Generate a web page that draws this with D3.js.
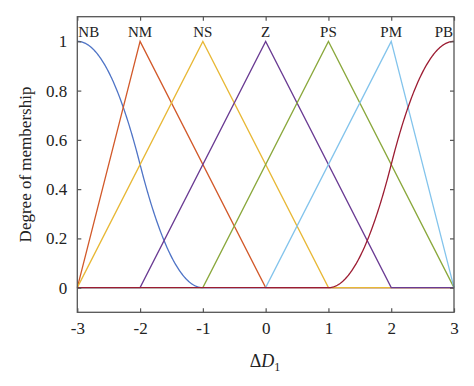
<!DOCTYPE html>
<html><head><meta charset="utf-8">
<script src="https://cdn.jsdelivr.net/npm/d3@7"></script>
<style>body{margin:0;background:#fff}svg text{font-family:"Liberation Serif","Times New Roman",serif;fill:#222}</style>
</head><body><svg id="c" width="474" height="386"></svg>
<script>
const names = ["NB","NM","NS","Z","PS","PM","PB"];
const colors = ["#4f74c6","#d2592a","#e8b836","#6a3b93","#8aa83c","#83c4ec","#9c1c32"];
// breakpoints [x, membership] for triangular sets; NB is z-shaped (-3..-1), PB is s-shaped (1..3)
const NM = [[-3,0],[-2,1],[0,0],[3,0]];
const NS = [[-3,0],[-1,1],[1,0],[3,0]];
const Z  = [[-3,0],[-2,0],[0,1],[2,0],[3,0]];
const PS = [[-3,0],[-1,0],[1,1],[3,0]];
const PM = [[-3,0],[0,0],[2,1],[3,0]];
const zmfParams = [-3,-1];
const smfParams = [1,3];
const peaks = [-3,-2,-1,0,1,2,3];
const xTicks = [-3,-2,-1,0,1,2,3];
const yTicks = [0,0.2,0.4,0.6,0.8,1];

function zmf(x,a,b){ if(x<=a) return 1; if(x>=b) return 0; const m=(a+b)/2;
  return x<=m ? 1-2*Math.pow((x-a)/(b-a),2) : 2*Math.pow((x-b)/(b-a),2); }
function smf(x,a,b){ return 1-zmf(x,a,b); }
const xs = d3.range(0,601).map(i=>-3+i*0.01);
const NB = xs.map(x=>[x,zmf(x,zmfParams[0],zmfParams[1])]);
const PB = xs.map(x=>[x,smf(x,smfParams[0],smfParams[1])]);
const series = [NB,NM,NS,Z,PS,PM,PB];

const svg = d3.select("#c");
const L=77.3,R=454,T=16.7,B=312.3;
const x = d3.scaleLinear().domain([-3,3]).range([L,R]);
const y = d3.scaleLinear().domain([-0.1,1.1]).range([B,T]);
const axisColor="#555";

const line = d3.line().x(d=>x(d[0])).y(d=>y(d[1]));
series.forEach((s,i)=>{
  svg.append("path").attr("d",line(s)).attr("fill","none")
    .attr("stroke",colors[i]).attr("stroke-width",1.3);
});

// frame
svg.append("rect").attr("x",L).attr("y",T).attr("width",R-L).attr("height",B-T)
  .attr("fill","none").attr("stroke",axisColor).attr("stroke-width",1.3);

const fs=17;
const gx = svg.append("g").attr("transform",`translate(0,${B})`)
  .call(d3.axisBottom(x).tickValues(xTicks).tickSize(-4).tickPadding(10).tickFormat(d3.format("d")));
const gxt = svg.append("g").attr("transform",`translate(0,${T})`)
  .call(d3.axisTop(x).tickValues(xTicks).tickSize(-4).tickFormat(""));
const gy = svg.append("g").attr("transform",`translate(${L},0)`)
  .call(d3.axisLeft(y).tickValues(yTicks).tickSize(-4).tickPadding(10).tickFormat(d=>d===0||d===1?String(d):d.toFixed(1)));
const gyr = svg.append("g").attr("transform",`translate(${R},0)`)
  .call(d3.axisRight(y).tickValues(yTicks).tickSize(-4).tickFormat(""));
[gx,gxt,gy,gyr].forEach(g=>{
  g.select(".domain").remove();
  g.selectAll("line").attr("stroke",axisColor).attr("stroke-width",1.2);
  g.selectAll("text").attr("font-size",fs).attr("font-family","Liberation Serif, serif").attr("fill","#222");
});
gx.selectAll("text").text(d=>d<0?"-"+Math.abs(d):d);

// set labels
names.forEach((n,i)=>{
  const px = x(peaks[i]);
  svg.append("text").attr("x", i===0?px+1:(i===6?px-1:px)).attr("y",37)
    .attr("text-anchor", i===0?"start":(i===6?"end":"middle"))
    .attr("font-size",15).text(n);
});

// axis titles
svg.append("text").attr("transform",`translate(31,${(T+B)/2}) rotate(-90)`)
  .attr("text-anchor","middle").attr("font-size",17).text("Degree of membership");
const xt = svg.append("text").attr("x",265).attr("y",367).attr("text-anchor","middle").attr("font-size",18);
xt.append("tspan").text("Δ");
xt.append("tspan").attr("font-style","italic").text("D");
xt.append("tspan").attr("font-size",12).attr("dy",4).text("1");
</script></body></html>
